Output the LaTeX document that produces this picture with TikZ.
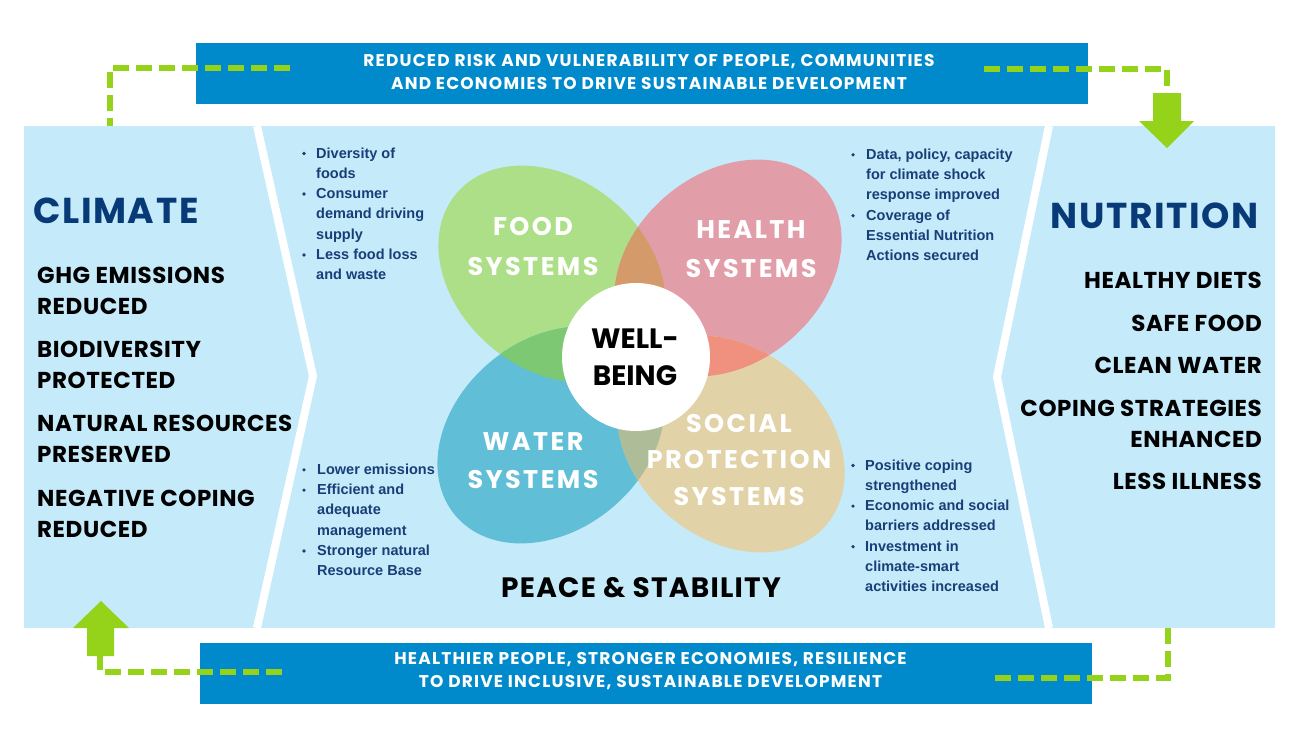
\documentclass[tikz,border=0pt]{standalone}
\usepackage{fontspec}
\setmainfont{Liberation Sans}
\newfontfamily\headfont{Poppins}
\newfontfamily\titlefont{Poppins}[LetterSpace=4.5]
\newfontfamily\outfont{Poppins}[LetterSpace=2.4]
\newfontfamily\bannerfont{Poppins}[LetterSpace=7]
\newfontfamily\petalfont{Poppins}[LetterSpace=9.5]
\usetikzlibrary{calc}

\definecolor{panelblue}{RGB}{197,234,250}
\definecolor{bannerblue}{RGB}{0,138,204}
\definecolor{navy}{RGB}{8,58,120}
\definecolor{bulletnavy}{RGB}{24,62,120}
\definecolor{flowgreen}{RGB}{149,211,27}
\definecolor{foodgreen}{RGB}{173,223,136}
\definecolor{healthpink}{RGB}{226,158,168}
\definecolor{waterblue}{RGB}{96,191,214}
\definecolor{socialtan}{RGB}{225,210,167}
\definecolor{foodhealth}{RGB}{213,154,106}
\definecolor{healthsocial}{RGB}{239,145,126}
\definecolor{socialwater}{RGB}{174,189,152}
\definecolor{waterfood}{RGB}{124,200,115}

\tikzset{
  banner/.style={fill=bannerblue, minimum width=892, minimum height=61, inner sep=0},
  bannertext/.style={text=white, align=center, inner sep=0,
    font=\bannerfont\bfseries\fontsize{17}{23.5}\selectfont},
  flow/.style={draw=flowgreen, line width=5.5, dash pattern=on 16pt off 7pt},
  title/.style={font=\titlefont\bfseries\fontsize{36}{36}\selectfont, text=navy, inner sep=0},
  outcome/.style={font=\outfont\bfseries\fontsize{23}{23}\selectfont, inner sep=0},
  petaltext/.style={font=\petalfont\bfseries\fontsize{25.5}{25.5}\selectfont, text=white, inner sep=0},
  bigtext/.style={font=\headfont\bfseries\fontsize{28}{28}\selectfont, inner sep=0},
  peacetext/.style={font=\titlefont\bfseries\fontsize{28}{28}\selectfont, inner sep=0},
  point/.style={font=\bfseries\fontsize{14.5}{14.5}\selectfont, text=bulletnavy, inner sep=0, anchor=base west},
  food/.style={shift={(552,274)}, rotate=-40},
  health/.style={shift={(728,268)}, rotate=40},
  water/.style={shift={(551,435)}, rotate=40},
  social/.style={shift={(731,444)}, rotate=-40}
}

\begin{document}
\begin{tikzpicture}[x=1pt, y=-1pt]
\useasboundingbox (0,0) rectangle (1300,731);
% panel and chevrons
\fill [panelblue] (24,126) rectangle (1275,628);
\draw [white, line width=8] (257,126) -- (313,376) -- (257,628);
\draw [white, line width=8] (1049,126) -- (997,377) -- (1049,628);
% petals
\fill [foodgreen, food] (0,0) ellipse [x radius=125, y radius=95];
\fill [healthpink, health] (0,0) ellipse [x radius=125, y radius=95];
\fill [waterblue, water] (0,0) ellipse [x radius=125, y radius=95];
\fill [socialtan, social] (0,0) ellipse [x radius=125, y radius=95];
\begin{scope}
\clip [food] (0,0) ellipse [x radius=125, y radius=95];
\fill [foodhealth, health] (0,0) ellipse [x radius=125, y radius=95];
\fill [waterfood, water] (0,0) ellipse [x radius=125, y radius=95];
\end{scope}
\begin{scope}
\clip [social] (0,0) ellipse [x radius=125, y radius=95];
\fill [healthsocial, health] (0,0) ellipse [x radius=125, y radius=95];
\fill [socialwater, water] (0,0) ellipse [x radius=125, y radius=95];
\end{scope}
\fill [white] (636,357) circle (74);
% petal texts
\node [petaltext, anchor=base] (food1) at (533,235) {FOOD};
\node [petaltext, anchor=base] (food2) at (533,275) {SYSTEMS};
\node [petaltext, anchor=base] (health1) at (751,238) {HEALTH};
\node [petaltext, anchor=base] (health2) at (751,277) {SYSTEMS};
\node [petaltext, anchor=base] (water1) at (533,450) {WATER};
\node [petaltext, anchor=base] (water2) at (533,488) {SYSTEMS};
\node [petaltext, anchor=base] (social1) at (739,432) {SOCIAL};
\node [petaltext, anchor=base] (social2) at (739,468) {PROTECTION};
\node [petaltext, anchor=base] (social3) at (739,505) {SYSTEMS};
\node [bigtext, anchor=base] (well1) at (635,348) {WELL-};
\node [bigtext, anchor=base] (well2) at (635,385) {BEING};
\node [peacetext, anchor=base] (peace) at (641,597) {PEACE \& STABILITY};
% climate side
\node [title, anchor=base west] (climate) at (33,223) {CLIMATE};
\node [outcome, anchor=base west] (ghg1) at (37,283) {GHG EMISSIONS};
\node [outcome, anchor=base west] (ghg2) at (37,314) {REDUCED};
\node [outcome, anchor=base west] (bio1) at (37,357) {BIODIVERSITY};
\node [outcome, anchor=base west] (bio2) at (37,388) {PROTECTED};
\node [outcome, anchor=base west] (nat1) at (37,431) {NATURAL RESOURCES};
\node [outcome, anchor=base west] (nat2) at (37,462) {PRESERVED};
\node [outcome, anchor=base west] (neg1) at (37,506) {NEGATIVE COPING};
\node [outcome, anchor=base west] (neg2) at (37,537) {REDUCED};
% nutrition side
\node [title, anchor=base east] (nutrition) at (1259,228) {NUTRITION};
\node [outcome, anchor=base east] (diets) at (1262,288) {HEALTHY DIETS};
\node [outcome, anchor=base east] (safe) at (1262,331) {SAFE FOOD};
\node [outcome, anchor=base east] (clean) at (1262,373) {CLEAN WATER};
\node [outcome, anchor=base east] (coping1) at (1262,416) {COPING STRATEGIES};
\node [outcome, anchor=base east] (coping2) at (1262,447) {ENHANCED};
\node [outcome, anchor=base east] (illness) at (1262,489) {LESS ILLNESS};
% bullet points
\fill [bulletnavy] (304,153.5) circle (1.8);
\fill [bulletnavy] (304,194) circle (1.8);
\fill [bulletnavy] (304,255) circle (1.8);
\node [point] (fd1) at (316,158) {Diversity of};
\node [point] (fd2) at (316,178.3) {foods};
\node [point] (fd3) at (316,198.6) {Consumer};
\node [point] (fd4) at (316,218.9) {demand driving};
\node [point] (fd5) at (316,239.2) {supply};
\node [point] (fd6) at (316,259.5) {Less food loss};
\node [point] (fd7) at (316,279.8) {and waste};
\fill [bulletnavy] (853,154.8) circle (1.8);
\fill [bulletnavy] (853,215.7) circle (1.8);
\node [point] (hl1) at (866,159.3) {Data, policy, capacity};
\node [point] (hl2) at (866,179.6) {for climate shock};
\node [point] (hl3) at (866,199.9) {response improved};
\node [point] (hl4) at (866,220.2) {Coverage of};
\node [point] (hl5) at (866,240.5) {Essential Nutrition};
\node [point] (hl6) at (866,260.8) {Actions secured};
\fill [bulletnavy] (304,469.8) circle (1.8);
\fill [bulletnavy] (304,490.1) circle (1.8);
\fill [bulletnavy] (304,551) circle (1.8);
\node [point] (wt1) at (317,474.3) {Lower emissions};
\node [point] (wt2) at (317,494.6) {Efficient and};
\node [point] (wt3) at (317,514.9) {adequate};
\node [point] (wt4) at (317,535.2) {management};
\node [point] (wt5) at (317,555.5) {Stronger natural};
\node [point] (wt6) at (317,575.8) {Resource Base};
\fill [bulletnavy] (853,465.5) circle (1.8);
\fill [bulletnavy] (853,506.1) circle (1.8);
\fill [bulletnavy] (853,546.7) circle (1.8);
\node [point] (sp1) at (865,470) {Positive coping};
\node [point] (sp2) at (865,490.3) {strengthened};
\node [point] (sp3) at (865,510.6) {Economic and social};
\node [point] (sp4) at (865,530.9) {barriers addressed};
\node [point] (sp5) at (865,551.2) {Investment in};
\node [point] (sp6) at (865,571.5) {climate-smart};
\node [point] (sp7) at (865,591.8) {activities increased};
% banners
\node [banner] (riskbox) at (642,73.5) {};
\node [bannertext] (risktext) at ($(riskbox)+(7,-1.5)$) {REDUCED RISK AND VULNERABILITY OF PEOPLE, COMMUNITIES\\AND ECONOMIES TO DRIVE SUSTAINABLE DEVELOPMENT};
\node [banner] (healthbox) at (645.5,673) {};
\node [bannertext] (healthtext) at ($(healthbox)+(5,-2)$) {HEALTHIER PEOPLE, STRONGER ECONOMIES, RESILIENCE\\TO DRIVE INCLUSIVE, SUSTAINABLE DEVELOPMENT};
% flows
\coordinate (riskL) at (290,68);
\coordinate (climTop) at (110,126);
\coordinate (riskR) at (984,69);
\coordinate (nutrArrow) at (1167,94);
\coordinate (nutrBot) at (1168,628);
\coordinate (healthR) at (989,678);
\coordinate (healthL) at (282,672);
\coordinate (climArrow) at (100,656);
\draw [flow] (riskL) -| (climTop);
\draw [flow] (riskR) -| (nutrArrow);
\draw [flow] (nutrBot) |- (healthR);
\draw [flow] (healthL) -| (climArrow);
\fill [flowgreen] (1153,93) -- (1181,93) -- (1181,121) -- (1194,121) -- (1167,148) -- (1139,121) -- (1153,121) -- cycle;
\fill [flowgreen] (87,656) -- (114,656) -- (114,628) -- (129,628) -- (101,601) -- (73,628) -- (87,628) -- cycle;
\end{tikzpicture}
\end{document}
